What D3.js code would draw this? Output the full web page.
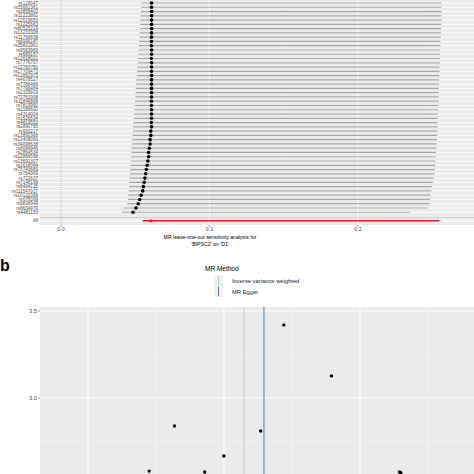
<!DOCTYPE html>
<html><head><meta charset="utf-8">
<script src="https://cdn.jsdelivr.net/npm/d3@7"></script>
<style>body{margin:0;background:#fff}svg{display:block;font-family:"Liberation Sans",Arial,sans-serif}</style>
</head><body><svg id="c" width="474" height="474"></svg>
<script>
const snps=["rs129047","rs55661361","rs3858402","rs11223861","rs12519653","rs1225663","rs80525219","rs13233308","rs11768838","rs6996187","rs35821961","rs9583969","rs689157","rs12618021","rs7776707","rs12783750","rs17709472","rs12862973","rs4678527","rs7786486","rs7796484","rs2339919","rs72761908","rs11846868","rs7819950","rs1186600","rs4314004","rs1526634","rs4819553","rs2890785","rs930217","rs13890366","rs13408066","rs34098638","rs8084946","rs2864534","rs12886598","rs13691307","rs1618084","rs75743689","rs764369","rs722637","rs7148199","rs8494125","rs111547017","rs10132089","rs678399","rs9838949","rs8634970","rs4481150"];
const estimates=[0.061,0.061,0.061,0.061,0.061,0.061,0.061,0.061,0.061,0.061,0.061,0.061,0.061,0.061,0.061,0.061,0.061,0.061,0.061,0.061,0.061,0.061,0.061,0.061,0.061,0.061,0.061,0.061,0.061,0.061,0.0605,0.0605,0.060,0.060,0.0595,0.059,0.059,0.0585,0.058,0.0575,0.057,0.0565,0.056,0.0555,0.055,0.054,0.053,0.052,0.0505,0.0485];
const lower=[0.0542,0.0540,0.0538,0.0536,0.0535,0.0533,0.0531,0.0530,0.0528,0.0526,0.0524,0.0522,0.0520,0.0518,0.0516,0.0514,0.0512,0.0510,0.0508,0.0506,0.0504,0.0502,0.0500,0.0498,0.0496,0.0494,0.0492,0.0490,0.0488,0.0486,0.0484,0.0482,0.0480,0.0478,0.0476,0.0474,0.0472,0.0470,0.0468,0.0466,0.0464,0.0462,0.0460,0.0458,0.0456,0.0454,0.0450,0.0446,0.0420,0.0410];
const upper=[0.2563,0.2563,0.2562,0.2562,0.2561,0.2560,0.2559,0.2558,0.2557,0.2556,0.2555,0.2554,0.2553,0.2552,0.2551,0.2550,0.2549,0.2548,0.2547,0.2546,0.2545,0.2544,0.2543,0.2542,0.2541,0.2540,0.2539,0.2538,0.2537,0.2536,0.2535,0.2534,0.2532,0.2530,0.2528,0.2526,0.2524,0.2522,0.2520,0.2518,0.2514,0.2510,0.2505,0.2500,0.2495,0.2490,0.2485,0.2480,0.2470,0.2350];
const allEst=0.0605, allLo=0.0550, allHi=0.2549;
const xTicksA=[0.0,0.1,0.2];
// panel b
const funnelX=[0.144,0.179,0.0636,0.127,0.0999,0.045,0.0858,0.23,0.229];
const funnelY=[3.42,3.127,2.839,2.81,2.667,2.58,2.575,2.57,2.575];
const methods=["Inverse variance weighted","MR Egger"];
const methodEst=[0.1146,0.1294];
const methodCol=["#b5cde0","#4e7fa2"];
const yTicksB=[3.0,3.5];

const svg=d3.select("#c");
// ---- panel a
const rows=snps.concat(["",""," All"]).slice(0,52);
const yA=d3.scaleLinear().domain([0,51]).range([3,220.8]);
const xA=d3.scaleLinear().domain([0,0.1]).range([61,209.5]);
const pa={x0:40,x1:474,y0:0,y1:225};
svg.append("rect").attr("x",pa.x0).attr("y",pa.y0).attr("width",pa.x1-pa.x0).attr("height",pa.y1-pa.y0).attr("fill","#ebebeb");
[0.05,0.15,0.25].forEach(v=>svg.append("line").attr("x1",xA(v)).attr("x2",xA(v)).attr("y1",pa.y0).attr("y2",pa.y1).attr("stroke","#f5f5f5").attr("stroke-width",0.5));
xTicksA.forEach(v=>svg.append("line").attr("x1",xA(v)).attr("x2",xA(v)).attr("y1",pa.y0).attr("y2",pa.y1).attr("stroke","#fff").attr("stroke-width",1));
for(let i=0;i<52;i++){if(i===50)continue;svg.append("line").attr("x1",pa.x0).attr("x2",pa.x1).attr("y1",yA(i)).attr("y2",yA(i)).attr("stroke","#fff").attr("stroke-width",1);}
svg.append("line").attr("x1",xA(0)).attr("x2",xA(0)).attr("y1",pa.y0).attr("y2",pa.y1).attr("stroke","#777").attr("stroke-dasharray","1,1.2").attr("stroke-width",0.7);
snps.forEach((s,i)=>{
 svg.append("line").attr("x1",xA(lower[i])).attr("x2",xA(upper[i])).attr("y1",yA(i)).attr("y2",yA(i)).attr("stroke","#a8a8a8").attr("stroke-width",1.2);
 svg.append("text").attr("x",38).attr("y",yA(i)+1.6).attr("text-anchor","end").attr("font-size",4.6).attr("fill","#4d4d4d").text(s);
});
svg.append("line").attr("x1",pa.x0).attr("x2",pa.x1).attr("y1",(yA(49)+yA(51))/2+1).attr("y2",(yA(49)+yA(51))/2+1).attr("stroke","#bbb").attr("stroke-width",0.6);
svg.append("line").attr("x1",xA(allLo)).attr("x2",xA(allHi)).attr("y1",yA(51)).attr("y2",yA(51)).attr("stroke","#e41a1c").attr("stroke-width",1.5);
snps.forEach((s,i)=>svg.append("circle").attr("cx",xA(estimates[i])).attr("cy",yA(i)).attr("r",1.8).attr("fill","#000"));
svg.append("circle").attr("cx",xA(allEst)).attr("cy",yA(51)).attr("r",1.6).attr("fill","#e41a1c");
svg.append("text").attr("x",38).attr("y",yA(51)+1.6).attr("text-anchor","end").attr("font-size",4.6).attr("fill","#4d4d4d").text("All");
xTicksA.forEach(v=>{svg.append("line").attr("x1",xA(v)).attr("x2",xA(v)).attr("y1",pa.y1).attr("y2",pa.y1+2).attr("stroke","#333").attr("stroke-width",0.5);
 svg.append("text").attr("x",xA(v)).attr("y",231).attr("text-anchor","middle").attr("font-size",5.5).attr("fill","#4d4d4d").text(v.toFixed(1));});
svg.append("text").attr("x",210).attr("y",239).attr("text-anchor","middle").attr("font-size",5.2).attr("fill","#000").text("MR leave-one-out sensitivity analysis for");
svg.append("text").attr("x",210).attr("y",246).attr("text-anchor","middle").attr("font-size",5.2).attr("fill","#000").text("'BIPSC2' on 'D1'");
// ---- panel b
svg.append("text").attr("x",0).attr("y",271).attr("font-size",16).attr("font-weight","bold").text("b");
svg.append("text").attr("x",205).attr("y",271).attr("font-size",6.5).text("MR Method");
methods.forEach((m,i)=>{const y=275+i*11;
 svg.append("rect").attr("x",214).attr("y",y).attr("width",9).attr("height",11).attr("fill","#f2f2f2");
 svg.append("line").attr("x1",218.5).attr("x2",218.5).attr("y1",y+0.5).attr("y2",y+10.5).attr("stroke",methodCol[i]).attr("stroke-width",1);
 svg.append("text").attr("x",232).attr("y",y+7.5).attr("font-size",5.8).attr("fill","#222").text(m);});
const pb={x0:40,x1:474,y0:307,y1:474};
const xB=d3.scaleLinear().domain([0,0.25]).range([88,428]);
const yB=d3.scaleLinear().domain([3.0,3.5]).range([398,311]);
svg.append("rect").attr("x",pb.x0).attr("y",pb.y0).attr("width",pb.x1-pb.x0).attr("height",pb.y1-pb.y0).attr("fill","#ebebeb");
[2.75,3.25].forEach(v=>svg.append("line").attr("x1",pb.x0).attr("x2",pb.x1).attr("y1",yB(v)).attr("y2",yB(v)).attr("stroke","#f5f5f5").attr("stroke-width",0.6));
[2.5,3.0,3.5].forEach(v=>svg.append("line").attr("x1",pb.x0).attr("x2",pb.x1).attr("y1",yB(v)).attr("y2",yB(v)).attr("stroke","#fff").attr("stroke-width",1.1));
[0.05,0.15,0.25].forEach(v=>svg.append("line").attr("x1",xB(v)).attr("x2",xB(v)).attr("y1",pb.y0).attr("y2",pb.y1).attr("stroke","#f5f5f5").attr("stroke-width",0.6));
[0,0.1,0.2].forEach(v=>svg.append("line").attr("x1",xB(v)).attr("x2",xB(v)).attr("y1",pb.y0).attr("y2",pb.y1).attr("stroke","#fff").attr("stroke-width",1.1));
methodEst.forEach((v,i)=>svg.append("line").attr("x1",xB(v)).attr("x2",xB(v)).attr("y1",pb.y0).attr("y2",pb.y1).attr("stroke",methodCol[i]).attr("stroke-width",1));
funnelX.forEach((v,i)=>svg.append("circle").attr("cx",xB(v)).attr("cy",yB(funnelY[i])).attr("r",1.7).attr("fill","#000"));
yTicksB.forEach(v=>{svg.append("line").attr("x1",pb.x0-2).attr("x2",pb.x0).attr("y1",yB(v)).attr("y2",yB(v)).attr("stroke","#333").attr("stroke-width",0.5);
 svg.append("text").attr("x",pb.x0-3).attr("y",yB(v)+2).attr("text-anchor","end").attr("font-size",5.8).attr("fill","#4d4d4d").text(v.toFixed(1));});
</script></body></html>
